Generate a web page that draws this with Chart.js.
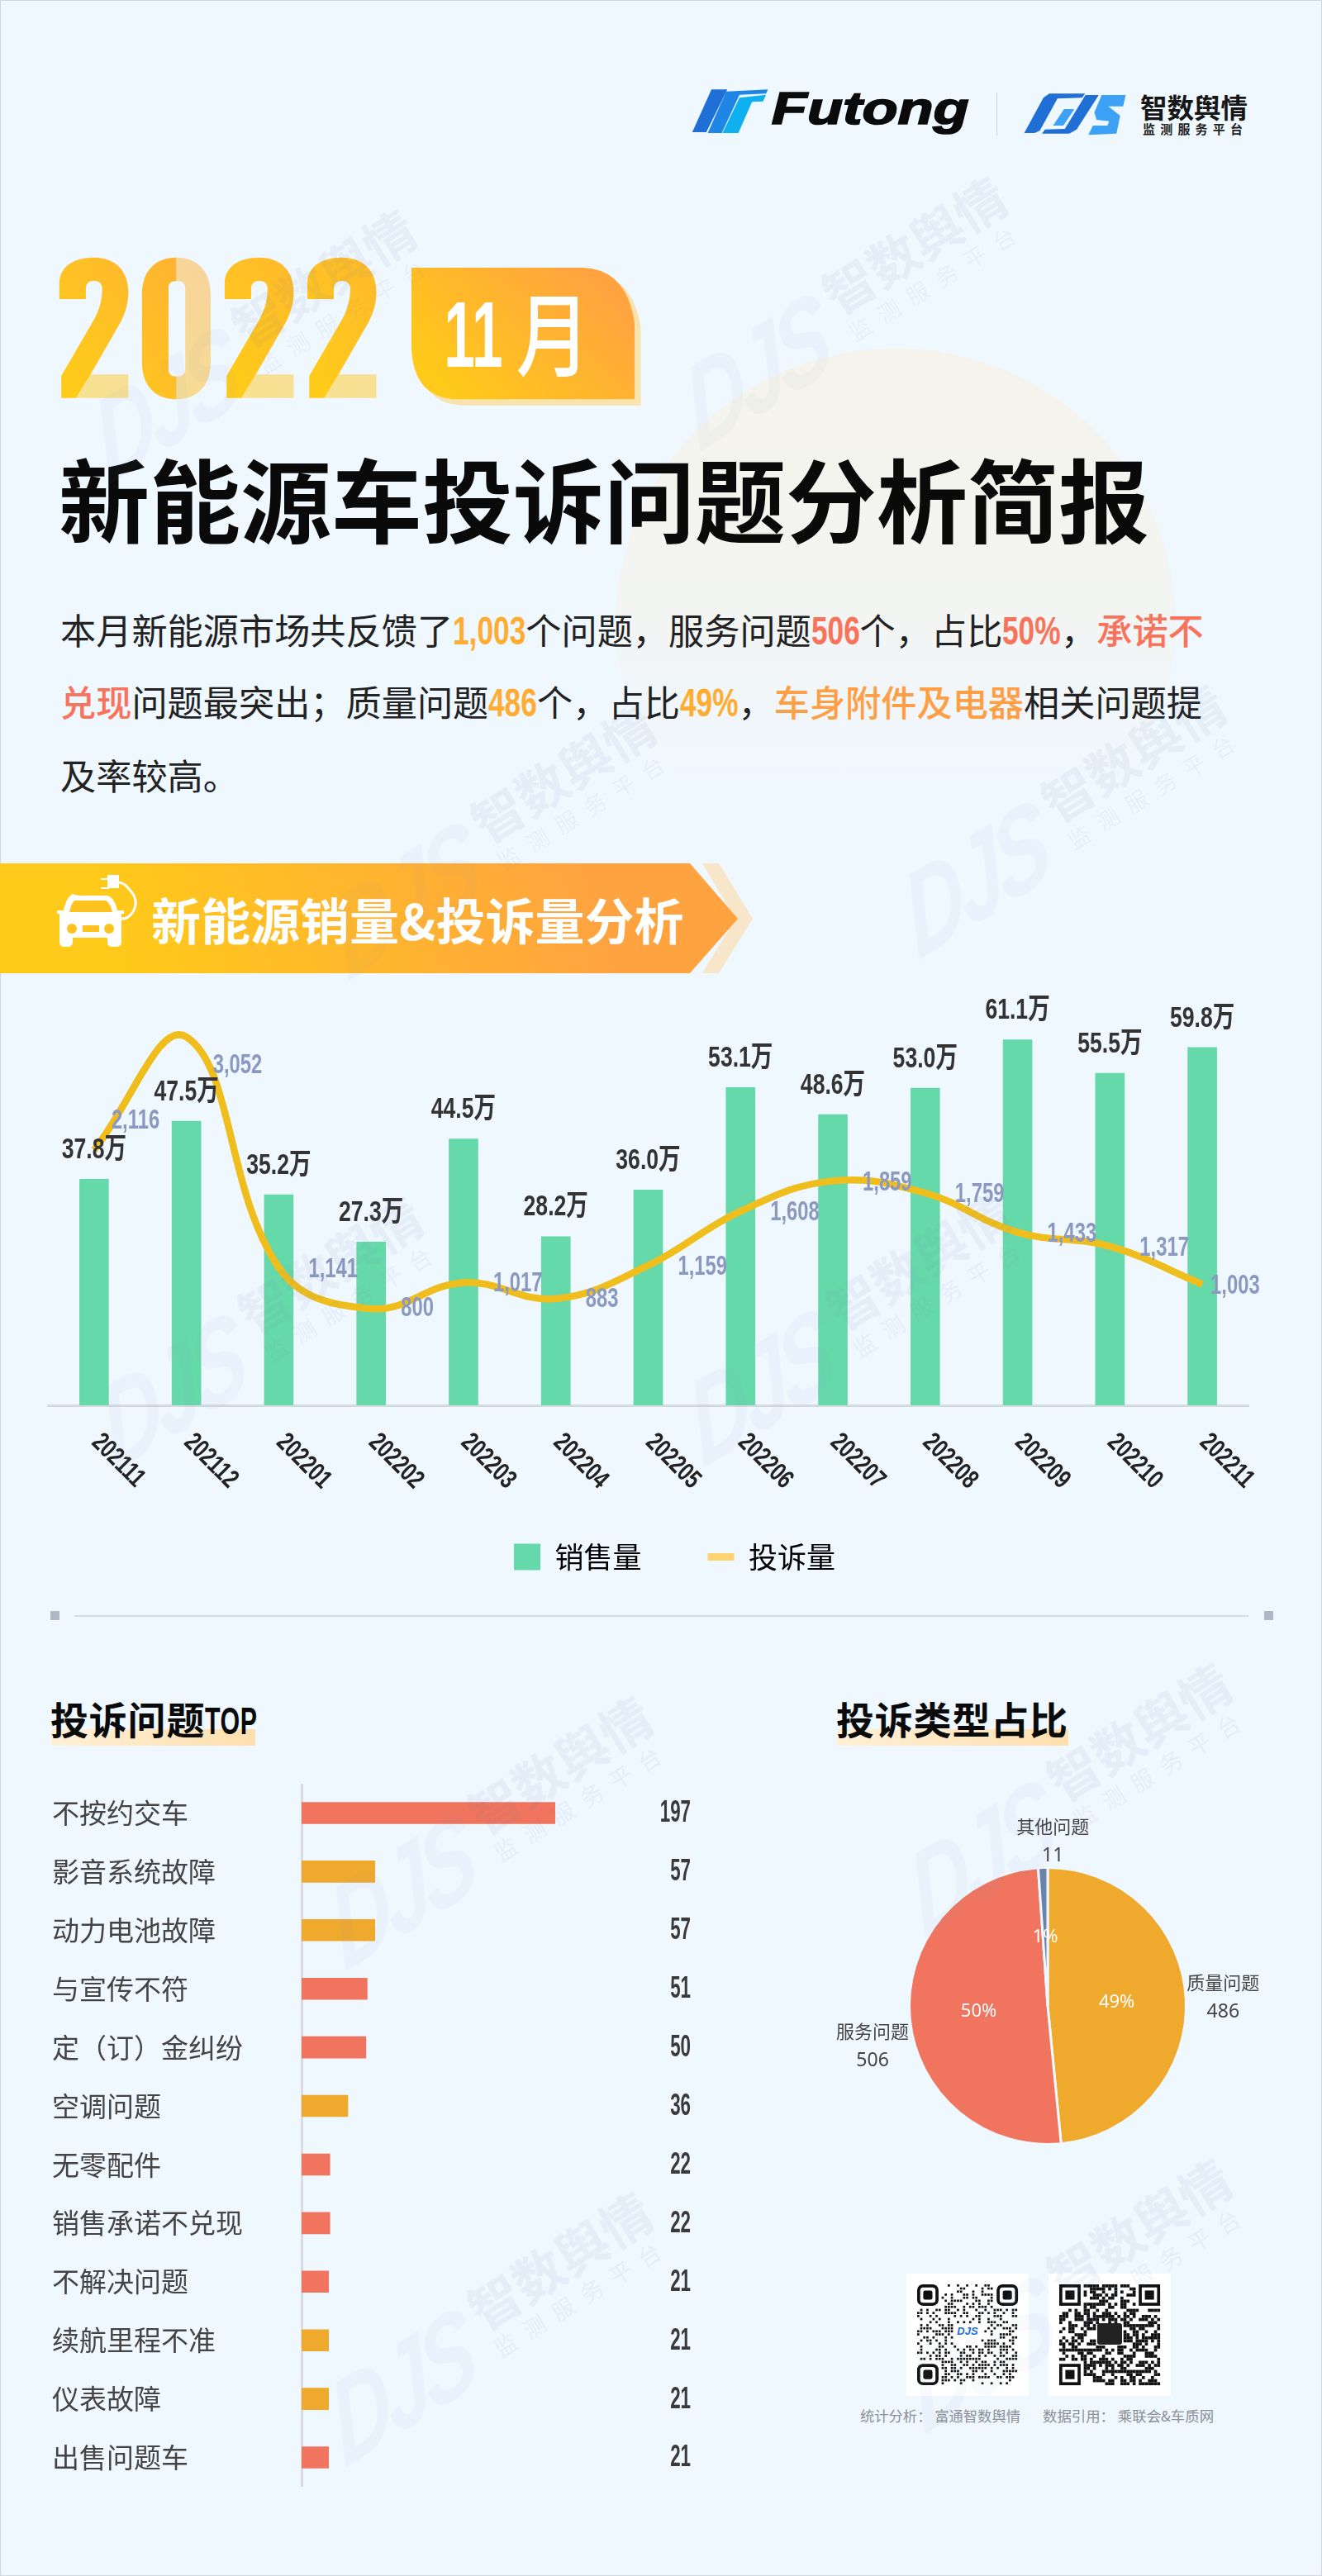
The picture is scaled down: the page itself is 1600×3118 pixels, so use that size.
<!DOCTYPE html>
<html lang="zh">
<head>
<meta charset="utf-8">
<title>新能源车投诉问题分析简报</title>
<script src="https://cdn.jsdelivr.net/npm/chart.js@4/dist/chart.umd.js"></script>
<style>
  * { box-sizing: border-box; }
  html, body { margin: 0; padding: 0; }
  body { width: 1600px; height: 3118px; position: relative; overflow: hidden; background: #EFF7FF; font-family: "Noto Sans CJK SC", sans-serif; color: #111; }
  .abs { position: absolute; white-space: nowrap; }
  canvas { position: absolute; }
  .para { left: 73px; font-size: 43.2px; line-height: 60px; color: #222; }
  .para b { font-family: "Liberation Sans", sans-serif; font-size: 49px; font-weight: 700; }
  .para i { font-style: normal; font-weight: 500; }
  .o { color: #FFAC33; } .r { color: #F8735B; } .d { color: #FF9F45; }
  .sub { font-size: 46px; font-weight: 700; line-height: 60px; color: #0a0a0a; letter-spacing: .8px; }
  .sub b { font-family: "Liberation Sans", sans-serif; font-size: 46px; }
  b.cond { display: inline-block; transform-origin: left center; }
  .under { height: 20px; background: linear-gradient(90deg, #FFF0D6, #FFDFAE); }
  .wm { position: absolute; transform: translate(-50%, -50%) rotate(-32deg); text-align: center; color: rgba(100, 125, 160, .075); pointer-events: none; white-space: nowrap; }
  .wm .big { font-size: 62px; font-weight: 700; line-height: 70px; }
  .wm .small { font-size: 27px; letter-spacing: 14px; line-height: 36px; }
  .ghost { position: absolute; transform: translate(-50%, -50%) rotate(-32deg) skewX(-18deg) scaleX(.8); color: rgba(120, 150, 195, .045); font: italic 900 135px "Liberation Sans", sans-serif; letter-spacing: -8px; pointer-events: none; white-space: nowrap; }
</style>
</head>
<body>

<div class="abs" style="left:745px;top:422px;width:678px;height:640px;border-radius:50% 50% 50% 50% / 52% 52% 48% 48%;background:linear-gradient(180deg,#F5F3EB 0%,#F3F5F3 50%,rgba(239,247,255,0) 82%)"></div>
<div class="abs" style="left:0;top:0;width:1600px;height:3118px;border:1px solid #CFD6DE"></div>

<!-- logos -->
<svg class="abs" style="left:820px;top:90px" width="700" height="90" viewBox="0 0 1568 270" preserveAspectRatio="none">
  <polygon points="40,210 92,55 135,55 78,210" fill="#1F6FD6"/>
  <polygon points="82,213 132,62 245,55 240,70 168,74 120,213" fill="#1F86E6"/>
  <polygon points="122,213 168,85 240,74 232,98 202,100 165,213" fill="#0FB0F0"/>
  <text x="255" y="180" font-family="Liberation Sans" font-weight="700" font-style="italic" font-size="165" textLength="535" lengthAdjust="spacingAndGlyphs" stroke="#0b0b0b" stroke-width="5" fill="#0b0b0b">Futong</text>
  <rect x="865" y="66" width="2" height="156" fill="#C9CED6"/>
  <polygon points="940,213 992,85 1008,70 1105,70 1097,85 1030,88 982,205 968,213" fill="#1F6FD6"/>
  <polygon points="988,215 1062,215 1082,200 1142,75 1106,75 1050,198 996,200" fill="#1F6FD6"/>
  <polygon points="1018,186 1048,126 1076,126 1046,186" fill="#3DA2F5"/>
  <polygon points="1150,75 1215,75 1208,116 1168,116 1200,150 1190,215 1114,220 1126,186 1166,186 1170,170 1136,165 1130,138" fill="#3DA2F5"/>
</svg>
<div class="abs" style="left:1380px;top:106px;font-size:32.5px;font-weight:700;line-height:46px;color:#161616">智数舆情</div>
<div class="abs" style="left:1383px;top:146px;font-size:15px;font-weight:700;line-height:20px;letter-spacing:6.2px;color:#222">监测服务平台</div>

<!-- headline year and month badge -->
<svg class="abs" style="left:60px;top:300px" width="740" height="200" viewBox="0 0 1568 600" preserveAspectRatio="none">
  <defs>
    <linearGradient id="warm" gradientUnits="userSpaceOnUse" x1="60" y1="500" x2="830" y2="60">
      <stop offset="0" stop-color="#FFCB1A"/><stop offset=".75" stop-color="#FFA93C"/><stop offset="1" stop-color="#FFA23F"/>
    </linearGradient>
    <linearGradient id="badge" gradientUnits="userSpaceOnUse" x1="980" y1="470" x2="1420" y2="130">
      <stop offset="0" stop-color="#FFCA19"/><stop offset="1" stop-color="#FFA340"/>
    </linearGradient>
    <clipPath id="zeroLeft"><rect x="230" y="20" width="95" height="540"/></clipPath>
    <clipPath id="zeroRight"><rect x="325" y="20" width="95" height="540"/></clipPath>
    <path id="twoMain" d="M25 186 L25 130 C25 70 60 35 113 35 C170 35 202 85 202 160 C202 200 195 235 182 270 L105 460 L68 545 L30 545 L30 465 L110 270 C125 235 135 195 135 150 C135 130 128 120 113 120 C100 120 93 130 93 150 L93 186 Z"/>
    <path id="zero" fill-rule="evenodd" d="M237 170 C237 85 270 35 325 35 C380 35 413 85 413 170 V415 C413 500 380 550 325 550 C270 550 237 500 237 415 Z M305 145 C305 128 312 120 327 120 C340 120 348 128 348 145 V440 C348 458 340 467 327 467 C312 467 305 458 305 440 Z"/>
    <polygon id="twoFoot" points="105,460 202,460 202,545 68,545"/>
  </defs>
  <g fill="url(#warm)">
    <use href="#twoMain"/>
    <use href="#twoFoot" opacity=".48"/>
    <use href="#zero" clip-path="url(#zeroLeft)"/>
    <use href="#zero" clip-path="url(#zeroRight)" opacity=".5"/>
  </g>
  <g fill="url(#warm)">
    <path transform="translate(424 0)" d="M25 186 L25 130 C25 70 60 35 113 35 C170 35 202 85 202 160 C202 200 195 235 182 270 L105 460 L68 545 L30 545 L30 465 L110 270 C125 235 135 195 135 150 C135 130 128 120 113 120 C100 120 93 130 93 150 L93 186 Z"/>
    <polygon transform="translate(424 0)" points="105,460 202,460 202,545 68,545" opacity=".48"/>
    <path transform="translate(636 0)" d="M25 186 L25 130 C25 70 60 35 113 35 C170 35 202 85 202 160 C202 200 195 235 182 270 L105 460 L68 545 L30 545 L30 465 L110 270 C125 235 135 195 135 150 C135 130 128 120 113 120 C100 120 93 130 93 150 L93 186 Z"/>
    <polygon transform="translate(636 0)" points="105,460 202,460 202,545 68,545" opacity=".48"/>
  </g>
  <path d="M944 92 H1386 Q1496 100 1516 290 V572 H1066 Q951 572 944 390 Z" fill="#F8E2AE"/>
  <path d="M928 72 H1370 Q1480 80 1500 270 V550 H1050 Q935 550 928 370 Z" fill="url(#badge)"/>
  <text x="1012" y="432" font-family="Liberation Sans" font-weight="700" font-size="339" textLength="150" lengthAdjust="spacingAndGlyphs" fill="#fff">11</text>
  <text x="1196" y="440" font-family="Noto Sans CJK SC" font-weight="500" font-size="330" textLength="190" lengthAdjust="spacingAndGlyphs" fill="#fff">月</text>
</svg>

<div class="abs" style="left:71px;top:526px;font-size:110px;font-weight:700;line-height:150px;color:#0a0a0a">新能源车投诉问题分析简报</div>

<div class="abs para" style="top:731px">本月新能源市场共反馈了<b class="cond o">1,003</b>个问题，服务问题<b class="cond r">506</b>个，占比<b class="cond r">50%</b>，<i class="r">承诺不</i></div>
<div class="abs para" style="top:818px"><i class="r">兑现</i>问题最突出；质量问题<b class="cond o">486</b>个，占比<b class="cond o">49%</b>，<i class="d">车身附件及电器</i>相关问题提</div>
<div class="abs para" style="top:907px">及率较高。</div>

<!-- section banner -->
<svg class="abs" style="left:0;top:1040px" width="930" height="145" viewBox="0 1040 930 145">
  <defs>
    <linearGradient id="ban" gradientUnits="userSpaceOnUse" x1="150" y1="1190" x2="700" y2="1020">
      <stop offset="0" stop-color="#FFCA19"/><stop offset="1" stop-color="#FFA340"/>
    </linearGradient>
  </defs>
  <polygon points="850,1045 870,1045 911,1112 870,1178 850,1178 890,1112" fill="#F8E6CB"/>
  <polygon points="0,1045 835,1045 893,1112 835,1178 0,1178" fill="url(#ban)"/>
  <g fill="#fff">
    <path d="M88 1082 Q92 1084 102 1084 H128 Q138 1084 142 1102 H150 V1106 H147 V1140 Q147 1146 140 1146 H136 Q130 1146 130 1140 V1135 H88 V1140 Q88 1146 82 1146 H78 Q72 1146 72 1140 V1106 H69 V1102 H77 Q80 1086 88 1082 Z"/>
    <path d="M90 1090 H128 Q134 1094 136 1104 H84 Q86 1094 90 1090 Z" fill="#FFC21F"/>
    <circle cx="87" cy="1124" r="6" fill="#FFC21F"/><circle cx="132" cy="1124" r="6" fill="#FFC21F"/>
    <rect x="100" y="1120" width="20" height="8" fill="#FFC21F"/>
    <path d="M143 1068 Q150 1068 156 1076 Q170 1090 160 1105 Q154 1113 147 1112" fill="none" stroke="#fff" stroke-width="3"/>
    <rect x="130" y="1059" width="14" height="16"/><rect x="122" y="1063" width="10" height="2"/><rect x="122" y="1074" width="10" height="2"/>
  </g>
</svg>
<div class="abs" style="left:183px;top:1072px;font-size:60px;font-weight:700;line-height:80px;color:#fff">新能源销量&amp;投诉量分析</div>

<canvas id="comboChart" width="1600" height="722" style="left:0;top:1190px;width:1600px;height:722px"></canvas>

<!-- divider -->
<div class="abs" style="left:61px;top:1950px;width:11px;height:11px;background:#AEB9C8"></div>
<div class="abs" style="left:90px;top:1955px;width:1421px;height:2px;background:#D5DCE8"></div>
<div class="abs" style="left:1530px;top:1950px;width:11px;height:11px;background:#AEB9C8"></div>

<!-- lower titles -->
<div class="abs under" style="left:62px;top:2093px;width:247px"></div>
<div class="abs sub" style="left:61px;top:2049px">投诉问题<b class="cond" data-k=".66">TOP</b></div>
<div class="abs under" style="left:1013px;top:2093px;width:280px"></div>
<div class="abs sub" style="left:1012px;top:2049px">投诉类型占比</div>

<canvas id="topChart" width="790" height="851" style="left:63px;top:2159px;width:790px;height:851px"></canvas>
<canvas id="pieChart" width="536" height="476" style="left:1000px;top:2190px;width:536px;height:476px"></canvas>

<!-- QR codes -->
<svg id="qrLeft" class="abs" style="left:1097px;top:2752px;background:#fff" width="148" height="148"></svg>
<svg id="qrRight" class="abs" style="left:1269px;top:2752px;background:#fff" width="148" height="148"></svg>
<div class="abs" style="left:1041px;top:2912px;font-size:17.3px;line-height:24px;color:#8A8F98">统计分析： 富通智数舆情</div>
<div class="abs" style="left:1262px;top:2912px;font-size:17.4px;line-height:24px;color:#8A8F98">数据引用： 乘联会&amp;车质网</div>

<div id="marks"></div>

<script>
// ---- chart data ----
const months = ['202111', '202112', '202201', '202202', '202203', '202204', '202205', '202206', '202207', '202208', '202209', '202210', '202211'];
const sales = [37.8, 47.5, 35.2, 27.3, 44.5, 28.2, 36.0, 53.1, 48.6, 53.0, 61.1, 55.5, 59.8];
const complaints = [2116, 3052, 1141, 800, 1017, 883, 1159, 1608, 1859, 1759, 1433, 1317, 1003];

const issueNames = ['不按约交车', '影音系统故障', '动力电池故障', '与宣传不符', '定（订）金纠纷', '空调问题', '无零配件', '销售承诺不兑现', '不解决问题', '续航里程不准', '仪表故障', '出售问题车'];
const issueCounts = [197, 57, 57, 51, 50, 36, 22, 22, 21, 21, 21, 21];
const issueKinds = ['s', 'q', 'q', 's', 's', 'q', 's', 's', 's', 'q', 'q', 's'];

const typeNames = ['质量问题', '服务问题', '其他问题'];
const typeCounts = [486, 506, 11];
const typeShares = ['49%', '50%', '1%'];

// ---- label nudges, the originals are placed by hand ----
const complaintDx = [21, 32, 36, 36, 36, 36, 36, 36, 36, 36, 36, 36, 10];
const complaintDy = [-35, 35, 2, 0, 1, 1, 2, 2, 2, 2, 2, 2, 2];
const typeDx = [45, -45, 12];
const typeDy = [-20, 17, -50];

const GREEN = '#66D9AB', LINE = '#EFBE1C', SALMON = '#F0745E', AMBER = '#EFA92D', SLATE = '#6C82A8';
const PAGE = '#EFF7FF';
const LATIN = '"Liberation Sans", "Noto Sans CJK SC", sans-serif';

Chart.defaults.font.family = '"Noto Sans CJK SC", sans-serif';
Chart.defaults.animation = false;
Chart.defaults.responsive = false;

// no condensed face is installed, so squeeze the digits by hand
document.querySelectorAll('b.cond').forEach(b => {
  const k = +b.dataset.k || 0.72;
  const w = b.offsetWidth;
  b.style.transform = `scaleX(${k})`;
  b.style.marginRight = -(w * (1 - k)) + 'px';
});

function squeezed(ctx, text, x, y, font, color, squeeze, align) {
  ctx.save();
  ctx.translate(x, y);
  ctx.scale(squeeze, 1);
  ctx.font = font;
  ctx.fillStyle = color;
  ctx.textAlign = align;
  ctx.textBaseline = 'middle';
  ctx.fillText(text, 0, 0);
  ctx.restore();
}

const comboLabels = {
  id: 'comboLabels',
  afterLayout(chart) {
    // the legend sits right of the plot centre in the original
    chart.legend.left += 32;
    chart.legend.right += 32;
  },
  afterDatasetsDraw(chart) {
    const { ctx } = chart;
    chart.getDatasetMeta(0).data.forEach((bar, i) => {
      squeezed(ctx, sales[i].toFixed(1) + '万', bar.x, bar.y - 35, 'bold 35px ' + LATIN, '#333', 0.76, 'center');
    });
    chart.getDatasetMeta(1).data.forEach((pt, i) => {
      squeezed(ctx, complaints[i].toLocaleString('en-US'), pt.x + complaintDx[i], pt.y + complaintDy[i], 'bold 34px ' + LATIN, '#8B99C0', 0.7, 'left');
    });
  }
};

new Chart(document.getElementById('comboChart'), {
  type: 'bar',
  data: {
    labels: months,
    datasets: [
      { type: 'bar', label: '销售量', data: sales, backgroundColor: GREEN, barThickness: 35, yAxisID: 'y', order: 2 },
      { type: 'line', label: '投诉量', data: complaints, borderColor: LINE, borderWidth: 8.5, tension: 0.4, pointRadius: 0, yAxisID: 'y2', order: 1 }
    ]
  },
  options: {
    layout: { padding: { left: 58, right: 89, top: 4, bottom: 0 } },
    plugins: {
      tooltip: { enabled: false },
      legend: {
        position: 'bottom',
        labels: {
          usePointStyle: true,
          pointStyleWidth: 32,
          boxHeight: 32,
          padding: 80,
          color: '#333',
          font: { size: 35 },
          generateLabels: () => [
            { text: '销售量', fillStyle: GREEN, strokeStyle: GREEN, lineWidth: 0, pointStyle: 'rect' },
            { text: '投诉量', fillStyle: '#FFD470', strokeStyle: '#FFD470', lineWidth: 9, pointStyle: 'line' }
          ]
        }
      }
    },
    scales: {
      x: {
        grid: { display: false, drawTicks: false },
        border: { color: '#D5D9E0', width: 3 },
        ticks: { autoSkip: false, minRotation: 45, maxRotation: 45, color: '#222' },
        afterFit(scale) {
          scale.height = 86;
          scale.paddingLeft = 0;
          scale.paddingRight = 0;
          // chart.js can only rotate labels the other way, and cannot condense them
          scale.drawLabels = function () {
            const ctx = this.ctx;
            this.ticks.forEach((tick, i) => {
              ctx.save();
              ctx.translate(this.getPixelForTick(i) + 2, this.top + 40);
              ctx.rotate(Math.PI / 4);
              squeezed(ctx, tick.label, 0, 0, 'bold 32px ' + LATIN, '#222', 0.74, 'left');
              ctx.restore();
            });
          };
        }
      },
      y: { display: false, min: 0, max: 70 },
      y2: { display: false, min: 0, max: 3470 }
    }
  },
  plugins: [comboLabels]
});

const topValues = {
  id: 'topValues',
  afterDatasetsDraw(chart) {
    const { ctx, chartArea } = chart;
    chart.getDatasetMeta(0).data.forEach((bar, i) => {
      squeezed(ctx, String(issueCounts[i]), chartArea.right + 4, bar.y + 1, 'bold 36px ' + LATIN, '#3A3A3A', 0.62, 'right');
    });
  }
};

new Chart(document.getElementById('topChart'), {
  type: 'bar',
  data: {
    labels: issueNames,
    datasets: [{
      data: issueCounts,
      backgroundColor: issueKinds.map(k => (k === 's' ? SALMON : AMBER)),
      barThickness: 26
    }]
  },
  options: {
    indexAxis: 'y',
    layout: { padding: { left: 0, right: 21, top: 0, bottom: 0 } },
    plugins: { legend: { display: false }, tooltip: { enabled: false } },
    scales: {
      x: { display: false, min: 0, max: 300 },
      y: {
        grid: { display: false, drawTicks: false },
        border: { color: '#D9DCE2', width: 3 },
        ticks: { crossAlign: 'far', padding: 0, color: '#444', font: { size: 33 }, autoSkip: false },
        afterFit(scale) {
          scale.width = 302;
          scale.paddingTop = 0;
          scale.paddingBottom = 0;
        }
      }
    }
  },
  plugins: [topValues]
});

const pieLabels = {
  id: 'pieLabels',
  afterDatasetsDraw(chart) {
    const { ctx } = chart;
    chart.getDatasetMeta(0).data.forEach((arc, i) => {
      const mid = (arc.startAngle + arc.endAngle) / 2;
      const c = arc.getCenterPoint();
      const x = arc.x + arc.outerRadius * Math.cos(mid) + typeDx[i];
      const y = arc.y + arc.outerRadius * Math.sin(mid) + typeDy[i];
      ctx.textAlign = 'center';
      ctx.textBaseline = 'middle';
      ctx.fillStyle = '#fff';
      ctx.font = '22px "Noto Sans", sans-serif';
      ctx.fillText(typeShares[i], c.x, c.y);
      ctx.fillStyle = '#444';
      ctx.font = '22px "Noto Sans CJK SC", sans-serif';
      ctx.fillText(typeNames[i], x, y);
      ctx.font = '23px "Noto Sans", sans-serif';
      ctx.fillText(String(typeCounts[i]), x, y + 36);
    });
  }
};

new Chart(document.getElementById('pieChart'), {
  type: 'pie',
  data: {
    labels: typeNames,
    datasets: [{ data: typeCounts, backgroundColor: [AMBER, SALMON, SLATE], borderColor: PAGE, borderWidth: 3 }]
  },
  options: {
    layout: { padding: { top: 69, bottom: 69 } },
    plugins: { legend: { display: false }, tooltip: { enabled: false } }
  },
  plugins: [pieLabels]
});

// ---- decoration ----
const marks = document.getElementById('marks');
const wmSpots = [[400, 350], [1115, 310], [690, 950], [1380, 925], [408, 1545], [1120, 1540], [686, 2150], [686, 2750], [1387, 2110], [1387, 2710]];
wmSpots.forEach(([x, y]) => {
  marks.insertAdjacentHTML('beforeend',
    `<div class="wm" style="left:${x}px;top:${y}px"><div class="big">智数舆情</div><div class="small">监测服务平台</div></div>` +
    `<div class="ghost" style="left:${x - 200}px;top:${y + 140}px">DJS</div>`);
});

// dummy QR look, module pattern is not a real code
function qr(id, seed, round) {
  const svg = document.getElementById(id);
  const n = 33, cell = 3.7, pad = 13;
  let s = seed, out = '';
  for (let r = 0; r < n; r++) {
    for (let c = 0; c < n; c++) {
      s = (s * 1103515245 + 12345) & 0x7fffffff;
      const corner = (r < 8 && c < 8) || (r < 8 && c >= n - 8) || (r >= n - 8 && c < 8);
      const centre = r > 12 && r < 20 && c > 11 && c < 21;
      if (!corner && !centre && (s >> 16) % 2) {
        out += `<rect x="${pad + c * cell}" y="${pad + r * cell}" width="${cell - (round ? 1 : 0)}" height="${cell - (round ? 1 : 0)}" fill="#111"/>`;
      }
    }
  }
  [[0, 0], [0, n - 7], [n - 7, 0]].forEach(([r, c]) => {
    const x = pad + c * cell, y = pad + r * cell, rx = round ? 7 : 0;
    out += `<rect x="${x}" y="${y}" width="${7 * cell}" height="${7 * cell}" rx="${rx}" fill="#111"/>` +
      `<rect x="${x + cell}" y="${y + cell}" width="${5 * cell}" height="${5 * cell}" rx="${rx / 2}" fill="#fff"/>` +
      `<rect x="${x + 2 * cell}" y="${y + 2 * cell}" width="${3 * cell}" height="${3 * cell}" rx="${rx / 3}" fill="#111"/>`;
  });
  out += round
    ? '<text x="74" y="74" text-anchor="middle" font-family="Liberation Sans" font-style="italic" font-weight="700" font-size="13" fill="#1F6FD6">DJS</text>'
    : '<rect x="59" y="60" width="30" height="26" rx="3" fill="#222"/>';
  svg.innerHTML = out;
}
qr('qrLeft', 20221, true);
qr('qrRight', 91177, false);
</script>
</body>
</html>
